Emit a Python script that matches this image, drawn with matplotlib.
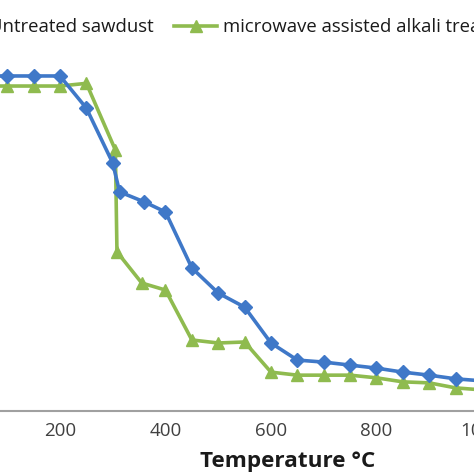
import matplotlib
matplotlib.use('Agg')
import matplotlib.pyplot as plt

plt.rcParams['font.family'] = ['Open Sans', 'DejaVu Sans']

# TGA curves (weight %, temperature in C)
untreated_t = [50, 100, 150, 200, 250, 300, 313, 360, 400, 450, 500, 550, 600,
               650, 700, 750, 800, 850, 900, 950, 1000]
untreated_w = [100, 100, 100, 100, 90.4, 74.0, 65.4, 62.4, 59.4, 42.7, 35.2, 31.0,
               20.3, 15.2, 14.6, 13.7, 12.8, 11.6, 10.7, 9.6, 9.0]

treated_t = [50, 100, 150, 200, 250, 305, 308, 355, 400, 450, 500, 550, 600,
             650, 700, 750, 800, 850, 900, 950, 1000]
treated_w = [97, 97, 97, 97, 97.8, 77.9, 47.5, 38.2, 36.1, 21.2, 20.3, 20.6,
             11.6, 10.7, 10.7, 10.7, 9.9, 8.7, 8.4, 6.9, 6.3]

xticks = [200, 400, 600, 800, 1000]

blue = '#3f78c8'
green = '#8fbb4f'

fig = plt.figure(figsize=(4.74, 4.74), dpi=100)
ax = fig.add_axes([-0.096, 0.1329, 1.3354, 0.7775])

ax.plot(untreated_t, untreated_w, color=blue, lw=2.6, marker='D', ms=7.5,
        label='Untreated sawdust', clip_on=False, zorder=3)
ax.plot(treated_t, treated_w, color=green, lw=2.6, marker='^', ms=9,
        label='microwave assisted alkali treated sawdust', clip_on=False, zorder=2)

ax.set_xlim(0, 1200)
ax.set_ylim(0, 110)
ax.set_xticks(xticks)
ax.set_yticks([])
for s in ['top', 'right', 'left']:
    ax.spines[s].set_visible(False)
ax.spines['bottom'].set_color('#a0a0a0')
ax.spines['bottom'].set_linewidth(1.5)
ax.tick_params(axis='x', length=0, pad=8, labelsize=13.5, labelcolor='#404040')

fig.text(0.606, 0.027, 'Temperature °C', ha='center', va='center',
         fontsize=16.2, fontweight='bold', color='#1a1a1a')

fig.legend(loc='center left', bbox_to_anchor=(-0.145, 0.942), ncol=2,
           frameon=False, fontsize=13.3, handlelength=2.3, handletextpad=0.35,
           columnspacing=1.1, borderpad=0, labelcolor='#1a1a1a')

fig.savefig('out.png', dpi=100)
